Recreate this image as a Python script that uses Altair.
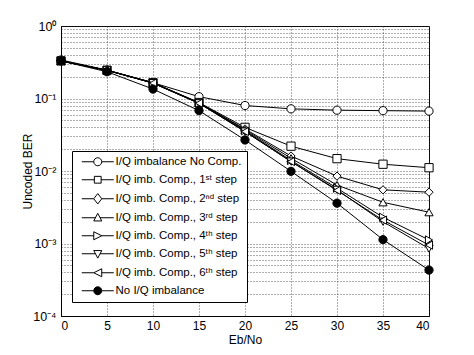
import altair as alt
import pandas as pd

ebno = [0, 5, 10, 15, 20, 25, 30, 35, 40]

series_names = [
    "I/Q imbalance No Comp.",
    "I/Q imb. Comp., 1ˢᵗ step",
    "I/Q imb. Comp., 2ⁿᵈ step",
    "I/Q imb. Comp., 3ʳᵈ step",
    "I/Q imb. Comp., 4ᵗʰ step",
    "I/Q imb. Comp., 5ᵗʰ step",
    "I/Q imb. Comp., 6ᵗʰ step",
    "No I/Q imbalance",
]

no_comp = [0.34, 0.247, 0.165, 0.106, 0.080, 0.072, 0.069, 0.068, 0.067]
step1 = [0.33, 0.245, 0.165, 0.088, 0.040, 0.022, 0.0148, 0.0124, 0.0111]
step2 = [0.33, 0.245, 0.165, 0.087, 0.038, 0.0161, 0.0085, 0.0055, 0.0051]
step3 = [0.33, 0.245, 0.165, 0.087, 0.037, 0.015, 0.0064, 0.0037, 0.0027]
step4 = [0.33, 0.245, 0.163, 0.086, 0.036, 0.014, 0.0058, 0.0023, 0.00112]
step5 = [0.33, 0.245, 0.163, 0.086, 0.035, 0.0135, 0.0055, 0.0020, 0.00085]
step6 = [0.33, 0.245, 0.163, 0.086, 0.035, 0.0135, 0.0054, 0.0021, 0.00095]
no_iq = [0.33, 0.234, 0.135, 0.068, 0.0268, 0.0099, 0.0036, 0.00113, 0.00043]

all_series = [no_comp, step1, step2, step3, step4, step5, step6, no_iq]

rows = []
for name, vals in zip(series_names, all_series):
    for xv, yv in zip(ebno, vals):
        rows.append({"ebno": xv, "ber": yv, "series": name})
df = pd.DataFrame(rows)

plot_shapes = ["circle", "square", "diamond", "triangle-up", "triangle-right",
               "triangle-down", "triangle-left", "circle"]
fills = ["white"] * 7 + ["black"]

circ = "M1,0A1,1,0,1,1,-1,0A1,1,0,1,1,1,0Z"
legend_paths = [
    "M-4,0H-1" + circ + "M1,0H4",
    "M-4,0H-0.85M-0.85,-0.85H0.85V0.85H-0.85ZM0.85,0H4",
    "M-4,0H-1M-1,0L0,-1.3L1,0L0,1.3ZM1,0H4",
    "M-4,0H-0.58M0,-1.1L1,0.8L-1,0.8ZM0.58,0H4",
    "M-4,0H-1M-1,-1L1,0L-1,1ZM1,0H4",
    "M-4,0H-0.58M0,1.1L1,-0.8L-1,-0.8ZM0.58,0H4",
    "M-4,0H-1M1,-1L-1,0L1,1ZM1,0H4",
    "M-4,0H-1" + circ + "M1,0H4",
]

y_values = [round(k * 10 ** e, 10) for e in range(-4, 0) for k in range(1, 10)] + [1.0]

label_expr = (
    "datum.value >= 0.99 ? '10⁰' : "
    "abs(datum.value-0.1) < 1e-9 ? '10⁻¹' : "
    "abs(datum.value-0.01) < 1e-10 ? '10⁻²' : "
    "abs(datum.value-0.001) < 1e-11 ? '10⁻³' : "
    "abs(datum.value-0.0001) < 1e-12 ? '10⁻⁴' : ''"
)

FONT = "Liberation Sans"
GRID = "#333333"

x_enc = alt.X(
    "ebno:Q",
    scale=alt.Scale(domain=[0, 40], nice=False),
    axis=alt.Axis(
        values=ebno, title="Eb/No", grid=True, gridDash=[1, 2], gridColor=GRID,
        gridWidth=0.8, ticks=False, labelPadding=4, titlePadding=3,
        domainColor="black", labelColor="black", titleColor="black",
        labelFont=FONT, titleFont=FONT, labelFontSize=12, titleFontSize=12,
        titleFontWeight="normal",
    ),
)
y_enc = alt.Y(
    "ber:Q",
    scale=alt.Scale(type="log", domain=[1e-4, 1], nice=False),
    axis=alt.Axis(
        values=y_values, labelExpr=label_expr, title="Uncoded BER", grid=True,
        gridDash=[1, 2], gridColor=GRID, gridWidth=0.8, ticks=False,
        labelPadding=5, titleX=-27, titleY=145, titleAngle=270,
        titleAlign="center", titleBaseline="bottom",
        domainColor="black", labelColor="black",
        titleColor="black", labelFont=FONT, titleFont=FONT, labelFontSize=12.5,
        titleFontSize=12, titleFontWeight="normal", labelFlush=False,
        labelOverlap=False,
    ),
)

base = alt.Chart(df)

layers = [
    base.mark_line(color="black", strokeWidth=1).encode(
        x=x_enc, y=y_enc, detail="series:N"
    )
]

for name, shp, fc in zip(series_names, plot_shapes, fills):
    layers.append(
        base.transform_filter(alt.datum.series == name)
        .mark_point(shape=shp, filled=True, fill=fc, stroke="black",
                    strokeWidth=1, size=68, opacity=1)
        .encode(x=x_enc, y=y_enc)
    )

legend_layer = base.mark_point(filled=True, stroke="black", strokeWidth=1, size=64, opacity=0).encode(
    x=x_enc,
    y=y_enc,
    fill=alt.Fill("series:N", scale=alt.Scale(domain=series_names, range=fills), legend=None),
    shape=alt.Shape(
        "series:N",
        scale=alt.Scale(domain=series_names, range=legend_paths),
        legend=alt.Legend(
            title=None, orient="none", legendX=11, legendY=125,
            symbolSize=64, symbolOffset=15, labelOffset=12,
            symbolOpacity=1, symbolStrokeColor="black", symbolStrokeWidth=1,
            symbolFillColor={"expr": "datum.value == 'No I/Q imbalance' ? 'black' : 'white'"},
            labelFont=FONT, labelFontSize=11.5, labelColor="black",
            rowPadding=5, padding=5, strokeColor="black", fillColor="white",
            cornerRadius=0, labelLimit=300,
        ),
    ),
)
layers.append(legend_layer)

chart = (
    alt.layer(*layers)
    .properties(
        width=368,
        height=290,
        autosize=alt.AutoSizeParams(type="none"),
        padding={"left": 53, "top": 18, "right": 30, "bottom": 30},
        background="white",
    )
    .configure_view(stroke="black", strokeWidth=1)
)

chart.save("out.html", embed_options={"renderer": "svg", "actions": False})
